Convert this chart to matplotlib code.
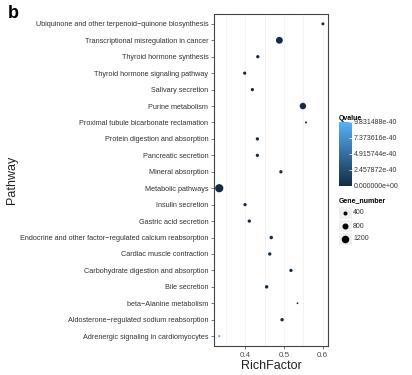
import numpy as np
import matplotlib.pyplot as plt
from matplotlib.colors import LinearSegmentedColormap, Normalize

plt.rcParams['font.family'] = ['Liberation Sans', 'DejaVu Sans']

PATHWAYS = [
    "Ubiquinone and other terpenoid\u2212quinone biosynthesis",
    "Transcriptional misregulation in cancer",
    "Thyroid hormone synthesis",
    "Thyroid hormone signaling pathway",
    "Salivary secretion",
    "Purine metabolism",
    "Proximal tubule bicarbonate reclamation",
    "Protein digestion and absorption",
    "Pancreatic secretion",
    "Mineral absorption",
    "Metabolic pathways",
    "Insulin secretion",
    "Gastric acid secretion",
    "Endocrine and other factor\u2212regulated calcium reabsorption",
    "Cardiac muscle contraction",
    "Carbohydrate digestion and absorption",
    "Bile secretion",
    "beta\u2212Alanine metabolism",
    "Aldosterone\u2212regulated sodium reabsorption",
    "Adrenergic signaling in cardiomyocytes",
]
RICH_FACTOR = [0.601, 0.488, 0.432, 0.398, 0.418, 0.549, 0.557, 0.431, 0.431, 0.492,
               0.332, 0.399, 0.410, 0.467, 0.463, 0.518, 0.455, 0.535, 0.495, 0.332]
GENE_NUMBER = [260, 1000, 300, 290, 290, 900, 170, 300, 300, 300,
               1400, 290, 300, 320, 310, 300, 320, 150, 310, 180]
QVALUE = [0, 0, 0, 0, 0, 0, 0, 0, 0, 0,
          0, 0, 0, 0, 0, 0, 0, 0, 0, 9.831488e-40]
LEGEND_SIZES = [400, 800, 1200]
QTICKS = [0, 2.457872e-40, 4.915744e-40, 7.373616e-40, 9.831488e-40]

CMAP = LinearSegmentedColormap.from_list("q", ["#132B43", "#56B1F7"])
GMIN, GMAX = min(GENE_NUMBER), max(GENE_NUMBER)


def taille(g):
    # diametre en px, echelle d'aire facon ggplot
    d2 = 1.8 ** 2 + (8.2 ** 2 - 1.8 ** 2) * (np.asarray(g) - GMIN) / (GMAX - GMIN)
    return (np.sqrt(d2) * 0.72) ** 2


fig = plt.figure(figsize=(4.12, 3.75), dpi=100)
ax = fig.add_axes([0.519, 0.0773, 0.277, 0.8854])

y = np.arange(len(PATHWAYS))[::-1]
norm = Normalize(0, max(QVALUE))
ax.scatter(RICH_FACTOR, y, s=taille(GENE_NUMBER), c=QVALUE, cmap=CMAP, norm=norm,
           linewidths=0, zorder=3)

ax.set_xlim(0.318, 0.614)
ax.set_ylim(-0.6, len(PATHWAYS) - 0.4)
ax.set_yticks(y)
ax.set_yticklabels(PATHWAYS, fontsize=5.2, color='#333333')
ax.set_xticks([0.4, 0.5, 0.6])
ax.set_xticklabels(["0.4", "0.5", "0.6"], fontsize=5.8, color='#4d4d4d')
for xm in [0.35, 0.4, 0.45, 0.5, 0.55, 0.6]:
    ax.axvline(xm, color='#f2f2f2', linewidth=0.6, zorder=0)
ax.tick_params(length=2, width=0.5, color='#444444', pad=2)
for sp in ax.spines.values():
    sp.set_color('#444444')
    sp.set_linewidth(0.8)

ax.set_xlabel("RichFactor", fontsize=9, color='#222222', labelpad=1)
fig.text(0.03, 0.52, "Pathway", rotation=90, fontsize=9, color='#222222',
         ha='center', va='center')
fig.text(0.018, 0.965, "b", fontsize=13, fontweight='bold', ha='left', va='center')

# legende Qvalue
fig.text(339 / 412, 1 - 118 / 375, "Qvalue", fontsize=5, fontweight='bold',
         ha='left', va='center')
cax = fig.add_axes([339 / 412, 1 - 186 / 375, 13 / 412, 64 / 375])
cb = fig.colorbar(plt.cm.ScalarMappable(norm=norm, cmap=CMAP), cax=cax)
cb.outline.set_visible(False)
cb.set_ticks(QTICKS)
cb.set_ticklabels(["%e" % v for v in QTICKS])
cax.tick_params(labelsize=5, length=2, width=0.5, color='white', direction='in',
                pad=1.5, labelcolor='#333333')

# legende Gene_number
fig.text(339 / 412, 1 - 201 / 375, "Gene_number", fontsize=5, fontweight='bold',
         ha='left', va='center')
lax = fig.add_axes([339 / 412, 1 - 246 / 375, 60 / 412, 40 / 375])
lax.set_xlim(0, 60)
lax.set_ylim(0, 40)
lax.axis('off')
for i, g in enumerate(LEGEND_SIZES):
    yy = 33 - i * 13
    lax.add_patch(plt.Rectangle((0, yy - 6.2), 12.5, 12.4, color='#f0f0f0', lw=0))
    lax.scatter([6.2], [yy], s=taille(g), color='black', linewidths=0)
    lax.text(14, yy, str(g), fontsize=5, va='center', color='#333333')

fig.savefig("out.png", dpi=100)
